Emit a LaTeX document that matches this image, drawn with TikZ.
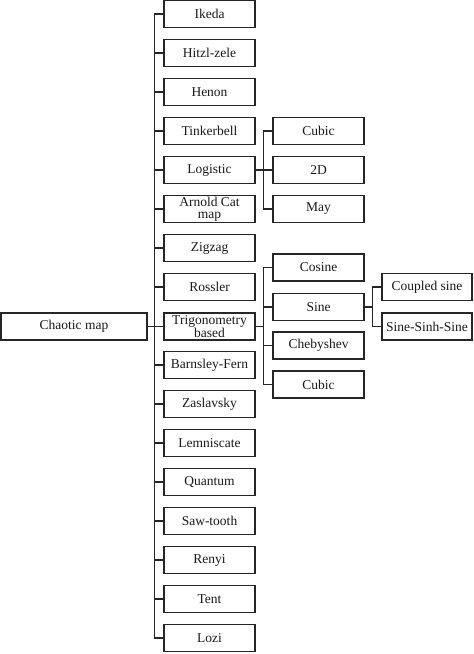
\documentclass[tikz,border=0pt]{standalone}
\usepackage{fontspec}
\setmainfont{Liberation Serif}
\begin{document}
\begin{tikzpicture}[x=1pt,y=-1pt,
  box/.style={draw=black!85, line width=1.2pt, inner sep=0pt, minimum height=27pt,
    text=black!90, align=center, font=\fontsize{13.5}{12.5}\selectfont},
  cA/.style={box, minimum width=91pt},
  cB/.style={box, minimum width=91pt},
  cC/.style={box, minimum width=90pt},
  link/.style={draw=black!85, line width=1.2pt}]
\useasboundingbox (0,0) rectangle (474,654);
% root
\node[box, minimum width=146pt] (root) at (74,326.5) {Chaotic map};
% column 1
\node[cA] (n0) at (209.5,14) {Ikeda};
\node[cA] (n1) at (209.5,53) {Hitzl-zele};
\node[cA] (n2) at (209.5,92) {Henon};
\node[cA] (n3) at (209.5,131) {Tinkerbell};
\node[cA] (n4) at (209.5,170) {Logistic};
\node[cA] (n5) at (209.5,209) {Arnold Cat\\map};
\node[cA] (n6) at (209.5,248) {Zigzag};
\node[cA] (n7) at (209.5,287) {Rossler};
\node[cA] (n8) at (209.5,326.5) {Trigonometry\\based};
\node[cA] (n9) at (209.5,365) {Barnsley-Fern};
\node[cA] (n10) at (209.5,404) {Zaslavsky};
\node[cA] (n11) at (209.5,443) {Lemniscate};
\node[cA] (n12) at (209.5,482) {Quantum};
\node[cA] (n13) at (209.5,521) {Saw-tooth};
\node[cA] (n14) at (209.5,560) {Renyi};
\node[cA] (n15) at (209.5,599) {Tent};
\node[cA] (n16) at (209.5,638) {Lozi};
% logistic children
\node[cB] (l1) at (318.5,131) {Cubic};
\node[cB] (l2) at (318.5,170) {2D};
\node[cB] (l3) at (318.5,209) {May};
% trig children
\node[cB] (t1) at (318.5,267.5) {Cosine};
\node[cB] (t2) at (318.5,307) {Sine};
\node[cB] (t3) at (318.5,345.5) {Chebyshev};
\node[cB] (t4) at (318.5,384.5) {Cubic};
% sine children
\node[cC] (s1) at (427,287) {Coupled sine};
\node[cC] (s2) at (427,326.5) {Sine-Sinh-Sine};
% main trunk
\draw[link] (n0.west) -- ++(-9,0) coordinate (ta) -- (ta |- n16.west) -- (n16.west);
\draw[link] (root.east) -- (n8.west);
\foreach \i in {1,...,15} {\draw[link] (n\i.west) -- (n\i.west -| ta);}
% logistic trunk
\draw[link] (l1.west) -- ++(-9,0) coordinate (tb) -- (tb |- l3.west) -- (l3.west);
\draw[link] (n4.east) -- (l2.west);
% trig trunk
\draw[link] (t1.west) -- ++(-9,0) coordinate (tc) -- (tc |- t4.west) -- (t4.west);
\draw[link] (n8.east) -- (n8.east -| tc);
\draw[link] (t2.west) -- (t2.west -| tc);
\draw[link] (t3.west) -- (t3.west -| tc);
% sine trunk
\draw[link] (s1.west) -- ++(-9,0) coordinate (td) -- (td |- s2.west) -- (s2.west);
\draw[link] (t2.east) -- (t2.east -| td);
\end{tikzpicture}
\end{document}
